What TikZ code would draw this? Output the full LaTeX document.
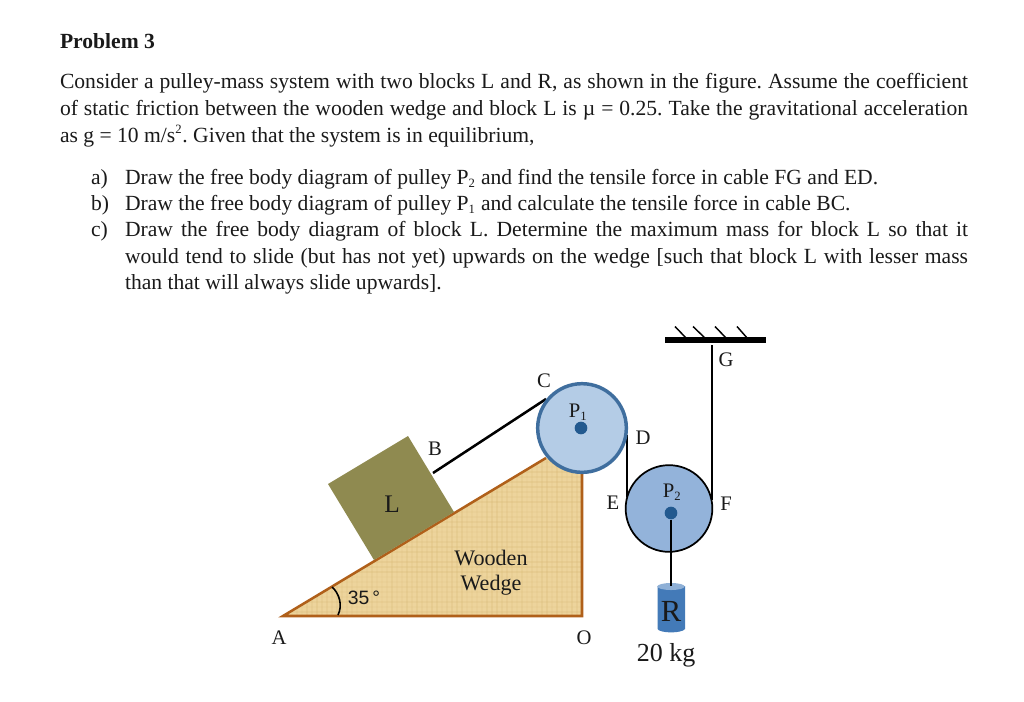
\documentclass[tikz,border=0pt]{standalone}
\usepackage{fontspec}
\setmainfont{Liberation Serif}
\newfontfamily\sansf{Liberation Sans}
\frenchspacing
\definecolor{wood}{HTML}{EDD49C}
\definecolor{woodline}{HTML}{D9BA78}
\definecolor{woodedge}{HTML}{B0601A}
\definecolor{blockc}{HTML}{8F8A50}
\definecolor{pone}{HTML}{B4CCE6}
\definecolor{ponee}{HTML}{3F6E9E}
\definecolor{ptwo}{HTML}{93B3DA}
\definecolor{hub}{HTML}{22598F}
\definecolor{rbody}{HTML}{437AB8}
\definecolor{rtop}{HTML}{8FB0D6}
\definecolor{ink}{HTML}{1A1A1A}
\tikzset{
  x=0.75pt,y=-0.75pt,
  body/.style={anchor=base west,inner sep=0pt,outer sep=0pt,font=\fontsize{16.2pt}{18pt}\selectfont,text=ink},
  lab/.style={inner sep=0pt,font=\fontsize{15.5pt}{17pt}\selectfont,text=ink},
  cable/.style={draw=black,line width=1.9pt},
  hubdot/.style={circle,fill=hub,minimum size=9.5pt,inner sep=0pt},
}
\newcommand{\jline}[2]{\makebox[#1pt][s]{#2}}
\newcommand{\subsm}[1]{\textsubscript{\fontsize{9.5pt}{10pt}\selectfont #1}}
\begin{document}
\begin{tikzpicture}
\useasboundingbox (0,0) rectangle (1024,701);
\fill[white] (0,0) rectangle (1024,701);
% text
\node[body] (t0) at (60,48) {\textbf{Problem 3}};
\node[body] (t1) at (60,88) {\jline{681}{Consider a pulley-mass system with two blocks L and R, as shown in the figure. Assume the coefficient}};
\node[body] (t2) at (60,115) {\jline{681}{of static friction between the wooden wedge and block L is µ = 0.25. Take the gravitational acceleration}};
\node[body] (t3) at (60,142) {as g = 10 m/s\textsuperscript{\fontsize{9.5pt}{10pt}\selectfont 2}. Given that the system is in equilibrium,};
\node[body] (a0) at (91,184) {a)};
\node[body] (a1) at (125,184) {Draw the free body diagram of pulley P\subsm{2} and find the tensile force in cable FG and ED.};
\node[body] (b0) at (91,210) {b)};
\node[body] (b1) at (125,210) {Draw the free body diagram of pulley P\subsm{1} and calculate the tensile force in cable BC.};
\node[body] (c0) at (91,236) {c)};
\node[body] (c1) at (125,236) {\jline{632.3}{Draw the free body diagram of block L. Determine the maximum mass for block L so that it}};
\node[body] (c2) at (125,263) {\jline{632.3}{would tend to slide (but has not yet) upwards on the wedge [such that block L with lesser mass}};
\node[body] (c3) at (125,289) {than that will always slide upwards].};
% wedge
\coordinate (A) at (283,616);
\coordinate (O) at (582,616);
\coordinate (W1) at (582,473);
\coordinate (W2) at (546,458);
\begin{scope}
\clip (A) -- (W2) -- (W1) -- (O) -- cycle;
\fill[wood] (280,450) rectangle (590,620);
\pgfmathsetseed{7}
\foreach \i in {0,...,60}{
  \pgfmathsetmacro{\op}{0.08+0.22*rnd}
  \draw[woodline,line width=0.9pt,opacity=\op] (282+\i*5,450) -- (282+\i*5,620);}
\foreach \i in {0,...,34}{
  \pgfmathsetmacro{\op}{0.08+0.22*rnd}
  \draw[woodline,line width=0.9pt,opacity=\op] (280,452+\i*5) -- (590,452+\i*5);}
\end{scope}
\draw[woodedge,line width=1.9pt,line join=miter] (W2) -- (A) -- (O) -- (W1);
% block
\fill[blockc] (408,436) -- (328,484) -- (374,560) -- (454,512) -- cycle;
% cables
\coordinate (B) at (433,473);
\coordinate (C) at (546,399);
\coordinate (D) at (627,435);
\coordinate (E) at (627,497);
\coordinate (F) at (712,500);
\coordinate (G) at (712,345);
\draw[cable] (B) -- (C);
% ceiling
\coordinate (HL) at (665,340);
\coordinate (HR) at (766,340);
\draw[black,line width=4.5pt] (HL) -- (HR);
\foreach \x/\xx in {687/675,706/693,727/715,748/737}{\draw[black,line width=1.1pt] (\x,339) -- (\xx,326.5);}
\draw[cable] (G) -- (F);
\draw[cable,line width=1.5pt] (D) -- (E);
% pulleys
\node[circle,draw=ponee,line width=2.6pt,fill=pone,minimum size=66.5pt,inner sep=0pt] (P1) at (582,428) {};
\node[hubdot] (H1) at (581,428) {};
\node[circle,draw=black,line width=1.3pt,fill=ptwo,minimum size=65pt,inner sep=0pt] (P2) at (669,508.5) {};
\node[hubdot] (H2) at (671,513) {};
% R
\coordinate (Rtop) at (671,586);
\fill[rbody] (657.5,586) -- (657.5,629) .. controls (660,633.5) and (682,633.5) .. (685,629) -- (685,586) -- cycle;
\fill[rtop] (671,586.5) ellipse (13.7 and 3.5);
\draw[cable,line width=1.7pt] (H2) -- (Rtop);
% angle arc
\coordinate (ArcA) at (332,587);
\coordinate (ArcB) at (338,615);
\draw[black,line width=1.2pt] (ArcA) .. controls (339,593) and (343,605) .. (ArcB);
% labels
\node[lab] (lA) at (279,638) {A};
\node[lab] (lB) at (435,449) {B};
\node[lab] (lC) at (544,381) {C};
\node[lab] (lD) at (643,438) {D};
\node[lab] (lE) at (613,503) {E};
\node[lab] (lF) at (726,504) {F};
\node[lab] (lG) at (726,360) {G};
\node[lab] (lO) at (584,638) {O};
\node[lab,font=\fontsize{19pt}{20pt}\selectfont] (lL) at (392,504) {L};
\node[lab] (lP1) at (578,412) {P\subsm{1}};
\node[lab] (lP2) at (672,492) {P\subsm{2}};
\node[lab,font=\fontsize{23pt}{24pt}\selectfont] (lR) at (671,611) {R};
\node[lab,font=\fontsize{19.5pt}{20pt}\selectfont] (lkg) at (666,655) {20 kg};
\node[lab,font=\fontsize{16.6pt}{19pt}\selectfont,align=center] (lW) at (491,573) {Wooden\\Wedge};
\node[lab,font=\sansf\fontsize{14.5pt}{16pt}\selectfont] (l35) at (364,598) {35\,°};
\end{tikzpicture}
\end{document}
